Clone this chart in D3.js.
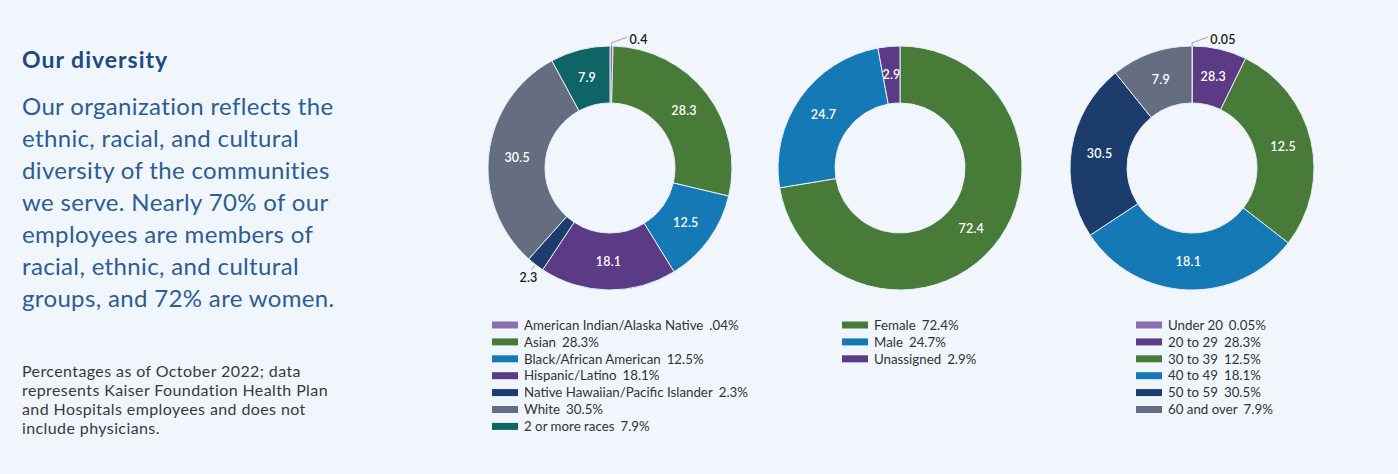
<!DOCTYPE html>
<html>
<head>
<meta charset="utf-8">
<script src="https://cdn.jsdelivr.net/npm/d3@7/dist/d3.min.js"></script>
<style>
  html, body { margin: 0; padding: 0; background: #f0f6fb; }
  svg { display: block; }
</style>
</head>
<body>
<svg id="chart"></svg>
<script>
// ---- data ----
const raceCategories = ['American Indian/Alaska Native', 'Asian', 'Black/African American', 'Hispanic/Latino',
  'Native Hawaiian/Pacific Islander', 'White', '2 or more races'];
const raceValues = [0.4, 28.3, 12.5, 18.1, 2.3, 30.5, 7.9];
const raceSliceLabels = ['0.4', '28.3', '12.5', '18.1', '2.3', '30.5', '7.9'];
const raceLegendValues = ['.04%', '28.3%', '12.5%', '18.1%', '2.3%', '30.5%', '7.9%'];

const genderCategories = ['Female', 'Male', 'Unassigned'];
const genderValues = [72.4, 24.7, 2.9];
const genderSliceLabels = ['72.4', '24.7', '2.9'];
const genderLegendValues = ['72.4%', '24.7%', '2.9%'];

const ageCategories = ['Under 20', '20 to 29', '30 to 39', '40 to 49', '50 to 59', '60 and over'];
// slice sizes as drawn in the picture (printed labels differ)
const ageValues = [0.05, 7.2, 28.3, 30.2, 23.5, 10.8];
const ageSliceLabels = ['0.05', '28.3', '12.5', '18.1', '30.5', '7.9'];
const ageLegendValues = ['0.05%', '28.3%', '12.5%', '18.1%', '30.5%', '7.9%'];

const titleText = 'Our diversity';
const bodyLines = ['Our organization reflects the', 'ethnic, racial, and cultural', 'diversity of the communities',
  'we serve. Nearly 70% of our', 'employees are members of', 'racial, ethnic, and cultural', 'groups, and 72% are women.'];
const noteLines = ['Percentages as of October 2022; data', 'represents Kaiser Foundation Health Plan',
  'and Hospitals employees and does not', 'include physicians.'];

// ---- styles ----
const WIDTH = 1398;
const HEIGHT = 474;
const OUTER_R = 122;
const INNER_R = 65;
const FONT = 'Lato, "Noto Sans", sans-serif';

const COLORS = {
  lilac: '#8a70b3',
  green: '#487b38',
  blue: '#1579b5',
  purple: '#5b3a86',
  navy: '#1c3c6b',
  gray: '#656e80',
  teal: '#0f6566',
};

const raceColors = [COLORS.lilac, COLORS.green, COLORS.blue, COLORS.purple, COLORS.navy, COLORS.gray, COLORS.teal];
const genderColors = [COLORS.green, COLORS.blue, COLORS.purple];
const ageColors = [COLORS.lilac, COLORS.purple, COLORS.green, COLORS.blue, COLORS.navy, COLORS.gray];

const svg = d3.select('#chart').attr('width', WIDTH).attr('height', HEIGHT);

svg.append('rect').attr('width', WIDTH).attr('height', HEIGHT).attr('fill', '#f0f6fb');

// ---- left text block ----
svg.append('text')
  .attr('x', 22).attr('y', 68)
  .attr('font-family', FONT).attr('font-weight', 700).attr('font-size', 23)
  .attr('letter-spacing', 1)
  .attr('fill', '#1b4a80')
  .text(titleText);

svg.append('g').selectAll('text')
  .data(bodyLines)
  .join('text')
  .attr('x', 22).attr('y', (d, i) => 115 + i * 32)
  .attr('font-family', FONT).attr('font-size', 24)
  .attr('letter-spacing', 0.35)
  .attr('fill', '#2c5d93')
  .text((d) => d);

svg.append('g').selectAll('text')
  .data(noteLines)
  .join('text')
  .attr('x', 22).attr('y', (d, i) => 377 + i * 19)
  .attr('font-family', FONT).attr('font-size', 16)
  .attr('letter-spacing', 0.4)
  .attr('fill', '#3a3a3a')
  .text((d) => d);

// ---- donuts ----
const pie = d3.pie().sort(null).value((d) => d.value);
const arc = d3.arc().innerRadius(INNER_R).outerRadius(OUTER_R);

const buildRows = (categories, values, sliceLabels, legendValues, colors) =>
  categories.map((name, i) => Object({
    name,
    value: values[i],
    label: sliceLabels[i],
    legend: legendValues[i],
    color: colors[i],
  }));

// outside labels: leader line offset and text offset from the slice's outer edge
const createDonut = (cx, cy, rows, outside, legendX) => {
  const g = svg.append('g').attr('transform', `translate(${cx}, ${cy})`);
  const arcs = pie(rows);

  g.selectAll('path')
    .data(arcs)
    .join('path')
    .attr('d', arc)
    .attr('fill', (d) => d.data.color)
    .attr('stroke', '#e6eef5')
    .attr('stroke-width', 1);

  g.selectAll('text.inside')
    .data(arcs.filter((d, i) => !(i in outside)))
    .join('text')
    .attr('class', 'inside')
    .attr('transform', (d) => `translate(${arc.centroid(d)})`)
    .attr('text-anchor', 'middle')
    .attr('dy', '0.36em')
    .attr('font-family', FONT).attr('font-weight', 600).attr('font-size', 12.5)
    .attr('letter-spacing', 0.2)
    .attr('fill', '#ffffff')
    .text((d) => d.data.label);

  arcs.forEach((d, i) => {
    if (!(i in outside)) return;
    const o = outside[i];
    const mid = (d.startAngle + d.endAngle) / 2;
    const px = Math.sin(mid) * OUTER_R;
    const py = -Math.cos(mid) * OUTER_R;
    g.append('path')
      .attr('d', d3.line()(o.path.map((p) => [px + p[0], py + p[1]])))
      .attr('fill', 'none')
      .attr('stroke', '#b9a9d6')
      .attr('stroke-width', 1.2);
    g.append('text')
      .attr('x', px + o.tx).attr('y', py + o.ty)
      .attr('text-anchor', o.anchor)
      .attr('dy', '0.36em')
      .attr('font-family', FONT).attr('font-weight', 600).attr('font-size', 12.5)
      .attr('letter-spacing', 0.2)
      .attr('fill', '#1a1a1a')
      .text(d.data.label);
  });

  const legend = svg.append('g').attr('transform', `translate(${legendX}, 325)`);
  const item = legend.selectAll('g')
    .data(rows)
    .join('g')
    .attr('transform', (d, i) => `translate(0, ${i * 16.9})`);
  item.append('rect')
    .attr('x', 0).attr('y', -3.5)
    .attr('width', 26).attr('height', 7)
    .attr('fill', (d) => d.color);
  const t = item.append('text')
    .attr('x', 32).attr('dy', '0.36em')
    .attr('font-family', FONT).attr('font-size', 13.3)
    .attr('fill', '#333333');
  t.append('tspan').text((d) => d.name);
  t.append('tspan').attr('dx', 6).text((d) => d.legend);
};

const topLeader = { path: [[0, 0], [0, -3], [16, -9]], tx: 18, ty: -7, anchor: 'start' };

createDonut(610, 168,
  buildRows(raceCategories, raceValues, raceSliceLabels, raceLegendValues, raceColors),
  { 0: topLeader, 4: { path: [[-1, 1], [-4, 5]], tx: -7, ty: 13, anchor: 'middle' } },
  492);

createDonut(900, 168,
  buildRows(genderCategories, genderValues, genderSliceLabels, genderLegendValues, genderColors),
  {},
  842);

createDonut(1192, 168,
  buildRows(ageCategories, ageValues, ageSliceLabels, ageLegendValues, ageColors),
  { 0: topLeader },
  1136);
</script>
</body>
</html>
